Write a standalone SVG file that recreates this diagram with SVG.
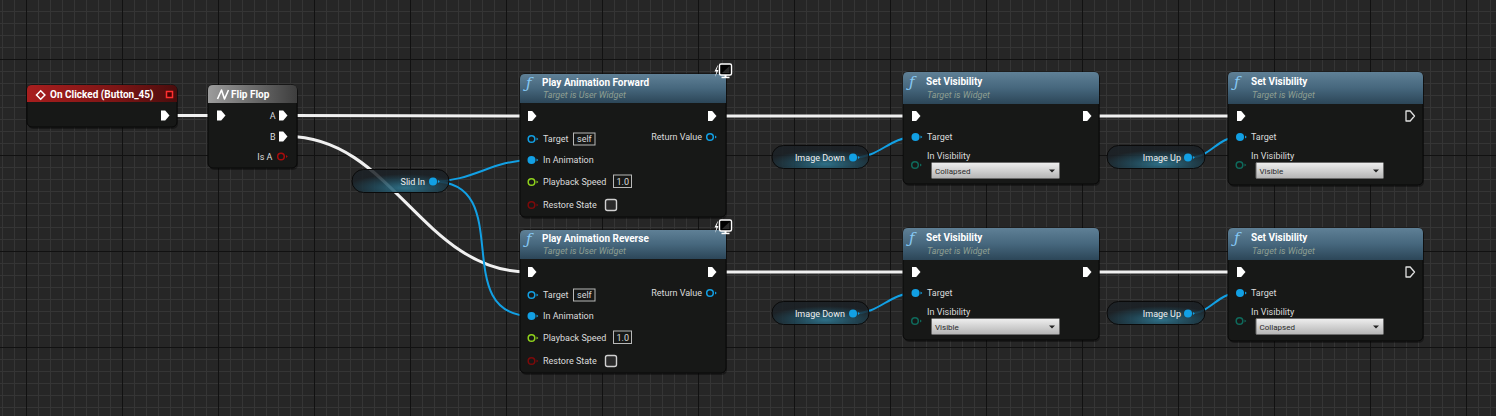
<svg xmlns="http://www.w3.org/2000/svg" width="1496" height="416" viewBox="0 0 1496 416">
<defs>
<style>
.body{fill:#171817;stroke:#080808;stroke-width:1}
.shadow{fill:#000;opacity:0.35}
.title{font-family:Roboto,"Liberation Sans",sans-serif;font-weight:bold;font-size:10px;fill:#ffffff}
.sub{font-family:Roboto,"Liberation Sans",sans-serif;font-style:italic;font-size:9px;fill:#8e9f92}
.lbl{font-family:Roboto,"Liberation Sans",sans-serif;font-size:9px;fill:#dcdcdc}
.pill-t{font-family:Roboto,"Liberation Sans",sans-serif;font-size:9px;fill:#f0f0f0}
.dd-t{font-family:Roboto,"Liberation Sans",sans-serif;font-size:8px;fill:#2a2a2a}
.fn{font-family:"DejaVu Serif","Liberation Serif",serif;font-style:italic;font-size:15px;fill:#86c8f4}
.exec{stroke:#f0f0f0;stroke-width:3;fill:none}
.data{stroke:#12a0e4;stroke-width:2;fill:none}
.pin-exec{fill:#ffffff}
.pin-exec-h{fill:none;stroke:#e0e0e0;stroke-width:1.3}
.pill{fill:url(#pillG);stroke:#0a0a0a;stroke-width:1}
.box{fill:none;stroke:#b8b8b8;stroke-width:1}
.dd{fill:url(#ddG);stroke:#6a6a6a;stroke-width:1}
</style>
<pattern id="minor" width="12" height="12" patternUnits="userSpaceOnUse" x="2" y="11">
<path d="M0.5,0 V12 M0,0.5 H12" stroke="#353535" stroke-width="1"/>
</pattern>
<pattern id="major" width="96" height="96" patternUnits="userSpaceOnUse" x="26" y="59">
<path d="M0.5,0 V96 M0,0.5 H96" stroke="#111111" stroke-width="1"/>
</pattern>
<linearGradient id="hdrFn" x1="0" y1="0" x2="0" y2="1">
<stop offset="0" stop-color="#5f8096"/>
<stop offset="0.5" stop-color="#46677d"/>
<stop offset="1" stop-color="#2c4658"/>
</linearGradient>
<linearGradient id="hdrRed" x1="0" y1="0" x2="1" y2="0">
<stop offset="0" stop-color="#a81e1e"/>
<stop offset="0.6" stop-color="#7c1515"/>
<stop offset="1" stop-color="#4a0d0d"/>
</linearGradient>
<linearGradient id="hdrGray" x1="0" y1="0" x2="1" y2="0">
<stop offset="0" stop-color="#9c9c9c"/>
<stop offset="0.5" stop-color="#6c6c6c"/>
<stop offset="1" stop-color="#3e3e3e"/>
</linearGradient>
<radialGradient id="pillG" cx="0.55" cy="0.8" r="0.6">
<stop offset="0" stop-color="#2f7892" stop-opacity="0.9"/>
<stop offset="0.55" stop-color="#1f4656" stop-opacity="0.85"/>
<stop offset="1" stop-color="#1b2126" stop-opacity="0.85"/>
</radialGradient>
<linearGradient id="ddG" x1="0" y1="0" x2="0" y2="1">
<stop offset="0" stop-color="#efefef"/>
<stop offset="1" stop-color="#b4b4b4"/>
</linearGradient>
<path id="exec" d="M-4,-5 H0.2 L4.5,0 L0.2,5 H-4 Z" stroke-linejoin="round"/>
<g id="pinB-h"><circle r="3.3" fill="none" stroke="#12a0e4" stroke-width="1.5"/><path d="M5,-1.6 L6.8,0 L5,1.6 Z" fill="#12a0e4"/></g>
<g id="pinB-f"><circle r="4" fill="#12a0e4"/><path d="M5,-1.6 L6.8,0 L5,1.6 Z" fill="#12a0e4"/></g>
<g id="pinG-h"><circle r="3.3" fill="none" stroke="#8fd21c" stroke-width="1.5"/><path d="M5,-1.6 L6.8,0 L5,1.6 Z" fill="#8fd21c"/></g>
<g id="pinR-h"><circle r="3.3" fill="none" stroke="#7c0a0a" stroke-width="1.5"/><path d="M5,-1.6 L6.8,0 L5,1.6 Z" fill="#7c0a0a"/></g>
<g id="pinRR-h"><circle r="3.3" fill="none" stroke="#a80c0c" stroke-width="1.5"/><path d="M5,-1.6 L6.8,0 L5,1.6 Z" fill="#a80c0c"/></g>
<g id="pinT-h"><circle r="3.3" fill="none" stroke="#0f6a5c" stroke-width="1.5"/><path d="M5,-1.6 L6.8,0 L5,1.6 Z" fill="#0f6a5c"/></g>
<g id="dd-arrow"><path d="M-3,-1.5 H3 L0,1.5 Z" fill="#222"/></g>
<g id="wicon">
<path d="M3.5,0 L0.5,6 L2.5,6 L1,11.5 L4.5,4.5 L2.5,4.5 L4,0 Z" fill="#ffffff"/>
<rect x="5.5" y="-1.5" width="12" height="11" rx="1.5" fill="#000" stroke="#ffffff" stroke-width="1.4"/>
<path d="M8,7.5 L15.5,0.5 L15.5,7.5 Z" fill="#2a2a2a"/>
<rect x="10.5" y="9.5" width="2" height="2" fill="#ffffff"/>
<rect x="7.5" y="11.2" width="8" height="1.5" fill="#ffffff"/>
</g>
</defs>

<rect width="1496" height="416" fill="#262626"/>
<rect width="1496" height="416" fill="url(#minor)"/>
<rect width="1496" height="416" fill="url(#major)"/>

<g id="connectors">
<path class="exec" d="M169.5,115.5 H217"/>
<path class="exec" d="M287.5,115.5 C388,115.5 428,116 528,116"/>
<path class="exec" d="M287.5,136.5 C392,136.5 423,272 528,272"/>
<path class="exec" d="M716.5,116 H912"/>
<path class="exec" d="M1091.5,116 H1237"/>
<path class="exec" d="M716.5,272 H912"/>
<path class="exec" d="M1091.5,272 H1237"/>
<path class="data" d="M433,181.5 C473,181.5 492,160 531.5,160"/>
<path class="data" d="M433,181.5 C518,181.5 447,316 531.5,316"/>
<path class="data" d="M853.5,157.5 C881,157.5 888,137 915.5,137"/>
<path class="data" d="M1188.5,157.5 C1213,157.5 1215,137 1240,137"/>
<path class="data" d="M853.5,313.5 C881,313.5 888,293 915.5,293"/>
<path class="data" d="M1188.5,313.5 C1213,313.5 1215,293 1240,293"/>
</g>

<g id="on-clicked">
<rect class="shadow" x="28" y="87" width="150" height="42" rx="5"/>
<rect class="body" x="27" y="85" width="150" height="42" rx="5"/>
<path d="M27,102 V90 Q27,85 32,85 H172 Q177,85 177,90 V102 Z" fill="url(#hdrRed)"/>
<path d="M36.5,95 L40.7,90.8 L44.9,95 L40.7,99.2 Z" fill="none" stroke="#ffffff" stroke-width="1.5"/>
<text class="title" x="50" y="98">On Clicked (Button_45)</text>
<rect x="166.5" y="91.5" width="6" height="6" fill="#4a0000" stroke="#ff3030" stroke-width="1.5"/>
<use href="#exec" class="pin-exec" x="165" y="115.5"/>
</g>

<g id="flip-flop">
<rect class="shadow" x="209" y="87" width="89" height="83" rx="5"/>
<rect class="body" x="208" y="85" width="89" height="83" rx="5"/>
<path d="M208,103 V90 Q208,85 213,85 H292 Q297,85 297,90 V103 Z" fill="url(#hdrGray)"/>
<path d="M217.5,99 L221.5,90 L224.5,99 L228.5,90" fill="none" stroke="#ffffff" stroke-width="1.6" stroke-linejoin="round"/>
<text class="title" x="231" y="98">Flip Flop</text>
<use href="#exec" class="pin-exec" x="221" y="115.5"/>
<text class="lbl" x="275.5" y="119" text-anchor="end">A</text>
<use href="#exec" class="pin-exec" x="283" y="115.5"/>
<text class="lbl" x="275.5" y="140" text-anchor="end">B</text>
<use href="#exec" class="pin-exec" x="283" y="136.5"/>
<text class="lbl" x="272.5" y="160" text-anchor="end">Is A</text>
<use href="#pinRR-h" x="281" y="156.5"/>
</g>

<g id="slid-in">
<rect class="pill" x="352" y="169.5" width="97" height="23" rx="11.5"/>
<text class="pill-t" x="425" y="185.3" text-anchor="end">Slid In</text>
<use href="#pinB-f" x="433" y="181.5"/>
</g>

<g id="play-forward">
<rect class="shadow" x="521" y="76" width="206" height="143" rx="5"/>
<rect class="body" x="520" y="74" width="206" height="143" rx="5"/>
<path d="M520,103 V79 Q520,74 525,74 H721 Q726,74 726,79 V103 Z" fill="url(#hdrFn)"/>
<text class="fn" x="526" y="88">ƒ</text>
<text class="title" x="542" y="86">Play Animation Forward</text>
<text class="sub" x="543" y="97.5">Target is User Widget</text>
<use href="#wicon" x="714" y="65.5"/>
<use href="#exec" class="pin-exec" x="532" y="116"/>
<use href="#exec" class="pin-exec" x="712" y="116"/>
<use href="#pinB-h" x="531.5" y="139"/>
<text class="lbl" x="543" y="142.3">Target</text>
<rect class="box" x="573.5" y="133" width="21.5" height="12"/>
<text class="lbl" x="577" y="142.3">self</text>
<text class="lbl" x="702" y="140" text-anchor="end">Return Value</text>
<use href="#pinB-h" x="710" y="137"/>
<use href="#pinB-f" x="531.5" y="160"/>
<text class="lbl" x="543" y="163">In Animation</text>
<use href="#pinG-h" x="531.5" y="182"/>
<text class="lbl" x="543" y="184.7">Playback Speed</text>
<rect class="box" x="613.5" y="175" width="18" height="12.5"/>
<text class="lbl" x="616.5" y="184.7">1.0</text>
<use href="#pinR-h" x="531.5" y="205"/>
<text class="lbl" x="543" y="208">Restore State</text>
<rect x="605.5" y="199.5" width="11" height="11" rx="2" fill="#2a2a2a" stroke="#d0d0d0" stroke-width="1.4"/>
</g>

<g id="play-reverse">
<rect class="shadow" x="521" y="232" width="206" height="143" rx="5"/>
<rect class="body" x="520" y="230" width="206" height="143" rx="5"/>
<path d="M520,259 V235 Q520,230 525,230 H721 Q726,230 726,235 V259 Z" fill="url(#hdrFn)"/>
<text class="fn" x="526" y="244">ƒ</text>
<text class="title" x="542" y="242">Play Animation Reverse</text>
<text class="sub" x="543" y="253.5">Target is User Widget</text>
<use href="#wicon" x="714" y="221.5"/>
<use href="#exec" class="pin-exec" x="532" y="272"/>
<use href="#exec" class="pin-exec" x="712" y="272"/>
<use href="#pinB-h" x="531.5" y="295"/>
<text class="lbl" x="543" y="298.3">Target</text>
<rect class="box" x="573.5" y="289" width="21.5" height="12"/>
<text class="lbl" x="577" y="298.3">self</text>
<text class="lbl" x="702" y="296" text-anchor="end">Return Value</text>
<use href="#pinB-h" x="710" y="293"/>
<use href="#pinB-f" x="531.5" y="316"/>
<text class="lbl" x="543" y="319">In Animation</text>
<use href="#pinG-h" x="531.5" y="338"/>
<text class="lbl" x="543" y="340.7">Playback Speed</text>
<rect class="box" x="613.5" y="331" width="18" height="12.5"/>
<text class="lbl" x="616.5" y="340.7">1.0</text>
<use href="#pinR-h" x="531.5" y="361"/>
<text class="lbl" x="543" y="364">Restore State</text>
<rect x="605.5" y="355.5" width="11" height="11" rx="2" fill="#2a2a2a" stroke="#d0d0d0" stroke-width="1.4"/>
</g>

<g id="image-down-1">
<rect class="pill" x="772" y="145.5" width="97" height="23" rx="11.5"/>
<text class="pill-t" x="845" y="160.8" text-anchor="end">Image Down</text>
<use href="#pinB-f" x="853" y="157.5"/>
</g>

<g id="set-visibility-1">
<rect class="shadow" x="904" y="74" width="196" height="112" rx="5"/>
<rect class="body" x="903" y="72" width="196" height="112" rx="5"/>
<path d="M903,104 V77 Q903,72 908,72 H1094 Q1099,72 1099,77 V104 Z" fill="url(#hdrFn)"/>
<text class="fn" x="909" y="87">ƒ</text>
<text class="title" x="926" y="85">Set Visibility</text>
<text class="sub" x="927" y="97.5">Target is Widget</text>
<use href="#exec" class="pin-exec" x="916" y="116"/>
<use href="#exec" class="pin-exec" x="1087" y="116"/>
<use href="#pinB-f" x="915.5" y="137"/>
<text class="lbl" x="927" y="139.7">Target</text>
<text class="lbl" x="927" y="159.3">In Visibility</text>
<use href="#pinT-h" x="915" y="165"/>
<rect class="dd" x="931.5" y="162.5" width="128" height="16" rx="1"/>
<text class="dd-t" x="935" y="173.5">Collapsed</text>
<use href="#dd-arrow" x="1052" y="171"/>
</g>

<g id="image-up-1">
<rect class="pill" x="1107" y="145.5" width="98" height="23" rx="11.5"/>
<text class="pill-t" x="1181" y="160.8" text-anchor="end">Image Up</text>
<use href="#pinB-f" x="1188" y="157.5"/>
</g>

<g id="set-visibility-2">
<rect class="shadow" x="1229" y="74" width="195" height="113" rx="5"/>
<rect class="body" x="1228" y="72" width="195" height="113" rx="5"/>
<path d="M1228,104 V77 Q1228,72 1233,72 H1418 Q1423,72 1423,77 V104 Z" fill="url(#hdrFn)"/>
<text class="fn" x="1234" y="87">ƒ</text>
<text class="title" x="1251" y="85">Set Visibility</text>
<text class="sub" x="1252" y="97.5">Target is Widget</text>
<use href="#exec" class="pin-exec" x="1241" y="116"/>
<use href="#exec" class="pin-exec-h" x="1410" y="116"/>
<use href="#pinB-f" x="1240" y="137"/>
<text class="lbl" x="1251" y="139.7">Target</text>
<text class="lbl" x="1251" y="159.3">In Visibility</text>
<use href="#pinT-h" x="1239.5" y="165"/>
<rect class="dd" x="1256" y="162.5" width="127.5" height="16" rx="1"/>
<text class="dd-t" x="1259.5" y="173.5">Visible</text>
<use href="#dd-arrow" x="1376" y="171"/>
</g>

<g id="image-down-2">
<rect class="pill" x="772" y="301.5" width="97" height="23" rx="11.5"/>
<text class="pill-t" x="845" y="316.8" text-anchor="end">Image Down</text>
<use href="#pinB-f" x="853" y="313.5"/>
</g>

<g id="set-visibility-3">
<rect class="shadow" x="904" y="230" width="196" height="112" rx="5"/>
<rect class="body" x="903" y="228" width="196" height="112" rx="5"/>
<path d="M903,260 V233 Q903,228 908,228 H1094 Q1099,228 1099,233 V260 Z" fill="url(#hdrFn)"/>
<text class="fn" x="909" y="243">ƒ</text>
<text class="title" x="926" y="241">Set Visibility</text>
<text class="sub" x="927" y="253.5">Target is Widget</text>
<use href="#exec" class="pin-exec" x="916" y="272"/>
<use href="#exec" class="pin-exec" x="1087" y="272"/>
<use href="#pinB-f" x="915.5" y="293"/>
<text class="lbl" x="927" y="295.7">Target</text>
<text class="lbl" x="927" y="315.3">In Visibility</text>
<use href="#pinT-h" x="915" y="321"/>
<rect class="dd" x="931.5" y="318.5" width="128" height="16" rx="1"/>
<text class="dd-t" x="935" y="329.5">Visible</text>
<use href="#dd-arrow" x="1052" y="327"/>
</g>

<g id="image-up-2">
<rect class="pill" x="1107" y="301.5" width="98" height="23" rx="11.5"/>
<text class="pill-t" x="1181" y="316.8" text-anchor="end">Image Up</text>
<use href="#pinB-f" x="1188" y="313.5"/>
</g>

<g id="set-visibility-4">
<rect class="shadow" x="1229" y="230" width="195" height="113" rx="5"/>
<rect class="body" x="1228" y="228" width="195" height="113" rx="5"/>
<path d="M1228,260 V233 Q1228,228 1233,228 H1418 Q1423,228 1423,233 V260 Z" fill="url(#hdrFn)"/>
<text class="fn" x="1234" y="243">ƒ</text>
<text class="title" x="1251" y="241">Set Visibility</text>
<text class="sub" x="1252" y="253.5">Target is Widget</text>
<use href="#exec" class="pin-exec" x="1241" y="272"/>
<use href="#exec" class="pin-exec-h" x="1410" y="272"/>
<use href="#pinB-f" x="1240" y="293"/>
<text class="lbl" x="1251" y="295.7">Target</text>
<text class="lbl" x="1251" y="315.3">In Visibility</text>
<use href="#pinT-h" x="1239.5" y="321"/>
<rect class="dd" x="1256" y="318.5" width="127.5" height="16" rx="1"/>
<text class="dd-t" x="1259.5" y="329.5">Collapsed</text>
<use href="#dd-arrow" x="1376" y="327"/>
</g>
</svg>
